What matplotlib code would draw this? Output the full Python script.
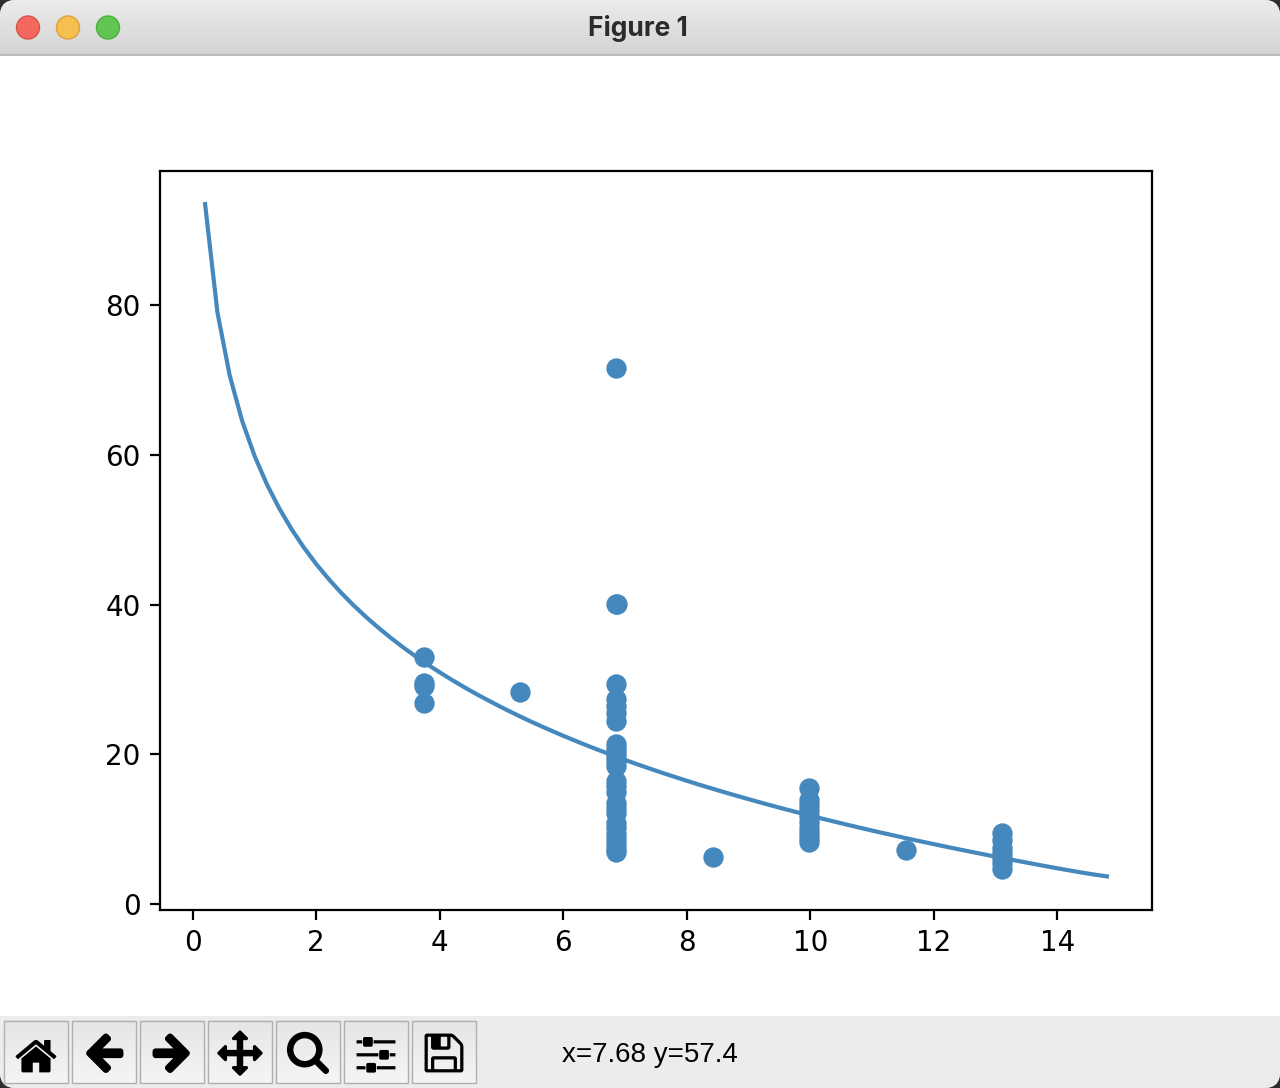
import os
import matplotlib
matplotlib.use('Agg')
import matplotlib.pyplot as plt
import numpy as np
from matplotlib.patches import Circle, FancyBboxPatch, Rectangle

# Кривая, значения
curve_x = [0.2, 0.4, 0.6, 0.8, 1.0, 1.2, 1.4, 1.6, 1.8, 2.0, 2.2, 2.4, 2.6, 2.8, 3.0, 3.2, 3.4, 3.6, 3.8, 4.0,
           4.2, 4.4, 4.6, 4.8, 5.0, 5.2, 5.4, 5.6, 5.8, 6.0, 6.2, 6.4, 6.6, 6.8, 7.0, 7.2, 7.4, 7.6, 7.8, 8.0,
           8.2, 8.4, 8.6, 8.8, 9.0, 9.2, 9.4, 9.6, 9.8, 10.0, 10.2, 10.4, 10.6, 10.8, 11.0, 11.2, 11.4, 11.6, 11.8, 12.0,
           12.2, 12.4, 12.6, 12.8, 13.0, 13.2, 13.4, 13.6, 13.8, 14.0, 14.2, 14.4, 14.6, 14.8]
curve_y = [93.54, 79.05, 70.58, 64.56, 59.90, 56.09, 52.87, 50.08, 47.62, 45.41,
           43.42, 41.60, 39.93, 38.38, 36.94, 35.59, 34.32, 33.13, 32.00, 30.93,
           29.91, 28.93, 28.00, 27.12, 26.26, 25.44, 24.65, 23.89, 23.16, 22.45,
           21.77, 21.10, 20.46, 19.84, 19.23, 18.64, 18.07, 17.51, 16.97, 16.44,
           15.92, 15.42, 14.93, 14.45, 13.98, 13.52, 13.07, 12.63, 12.20, 11.78,
           11.36, 10.96, 10.56, 10.17, 9.78, 9.41, 9.04, 8.67, 8.32, 7.97,
           7.62, 7.28, 6.95, 6.62, 6.29, 5.97, 5.66, 5.35, 5.04, 4.74,
           4.45, 4.16, 3.90, 3.66]

# Точки по столбцам
col_375 = [33.0, 29.5, 29.1, 26.9]
col_530 = [28.3]
col_685 = [71.6, 40.1, 29.4, 27.4, 26.4, 25.5, 24.4, 21.4, 20.7, 20.2, 19.6, 19.1, 18.4,
           16.4, 15.8, 15.0, 13.5, 12.8, 12.2, 10.8, 10.1, 9.3, 8.7, 8.0, 7.3, 6.9]
col_687 = [40.1]
col_842 = [6.3]
col_1000 = [15.5, 13.9, 13.2, 12.5, 11.7, 10.9, 10.1, 9.5, 8.8, 8.3]
col_1156 = [7.2]
col_1310 = [9.5, 8.5, 7.5, 6.8, 6.1, 5.5, 4.7]

columns = {3.75: col_375, 5.3: col_530, 6.855: col_685, 6.875: col_687, 8.42: col_842,
           9.985: col_1000, 11.55: col_1156, 13.1: col_1310}

blue = '#4488bd'

W, H = 1280, 1088
fig = plt.figure(figsize=(W / 200, H / 200), dpi=200, facecolor='#2e2e2e')

# Окно программы рисуем в пикселях на отдельных осях
bg = fig.add_axes([0, 0, 1, 1], zorder=0)
bg.axis('off')

window = FancyBboxPatch((0, 0), W, H, boxstyle='round,pad=0,rounding_size=16',
                        facecolor='white', edgecolor='none')
bg.add_patch(window)

# Заголовок окна
title_grad = np.linspace(0, 1, 55).reshape(-1, 1)
im = bg.imshow(title_grad, extent=(0, W, 55, 0), cmap=matplotlib.colors.LinearSegmentedColormap.from_list(
    'title', ['#ececec', '#d3d3d3']), aspect='auto', zorder=1)
im.set_clip_path(window)
bg.plot([0, W], [54.5, 54.5], color='#b2b2b2', linewidth=0.6, zorder=2)

# Кнопки окна
for cx, face, edge in [(28, '#f2675e', '#d9534b'), (68, '#f6bf50', '#dea03c'), (108, '#61c554', '#4eae40')]:
    bg.add_patch(Circle((cx, 27.5), 11.5, facecolor=face, edgecolor=edge, linewidth=0.5, zorder=3))
bg.text(638, 28, 'Figure 1', fontsize=9.5, fontweight='bold', color='#2b2b2b',
        family='Inter', ha='center', va='center', zorder=3)

# Панель инструментов
tool_rect = Rectangle((0, 1016), W, H - 1016, facecolor='#ececec', edgecolor='none', zorder=1)
bg.add_patch(tool_rect)
tool_rect.set_clip_path(window)

btn_grad = np.linspace(0, 1, 63).reshape(-1, 1)
btn_cmap = matplotlib.colors.LinearSegmentedColormap.from_list('btn', ['#e5e5e5', '#f5f5f5'])
icons = ['home', 'back', 'forward', 'move', 'zoom_to_rect', 'subplots', 'filesave']
for i, name in enumerate(icons):
    x0 = 4 + 68 * i
    bg.imshow(btn_grad, extent=(x0, x0 + 63.5, 1083, 1020.5), cmap=btn_cmap, aspect='auto', zorder=2)
    bg.add_patch(Rectangle((x0, 1020.5), 63.5, 62.5, facecolor='none', edgecolor='#b0b0b0', linewidth=0.5, zorder=3))
    icon = plt.imread(os.path.join(matplotlib.get_data_path(), 'images', name + '_large.png'))
    bg.imshow(icon, extent=(x0 + 8, x0 + 56, 1076, 1028), aspect='auto', zorder=4)

bg.text(562, 1055.5, 'x=7.68 y=57.4', fontsize=10, color='black', family='Liberation Sans',
        ha='left', va='center', zorder=3)

bg.set_xlim(0, W)
bg.set_ylim(H, 0)

# Основной график
ax = fig.add_axes([160 / W, 1 - 910 / H, 992 / W, 739.5 / H], zorder=1)
for cx, ys in columns.items():
    ax.scatter([cx] * len(ys), ys, s=40, color=blue)
ax.plot(curve_x, curve_y, color=blue)

fig.savefig('out.png', dpi=200, facecolor=fig.get_facecolor())
